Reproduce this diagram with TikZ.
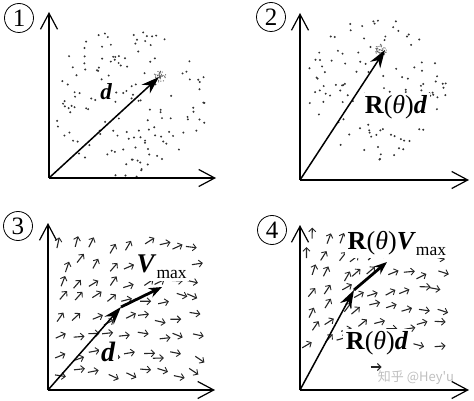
\documentclass[tikz,border=0pt]{standalone}
\usepackage{fontspec}
\setmainfont{Liberation Serif}
\newfontfamily\cjkfont{Noto Sans CJK SC}
\usetikzlibrary{arrows.meta}
\begin{document}
\begin{tikzpicture}[x=1pt,y=-1pt,
  axis/.style={line width=1.4pt,-{Straight Barb[length=16pt,width=17pt,line width=1.2pt]}},
  vec/.style={line width=1.5pt,-{Stealth[length=18pt,width=12pt]}},
  vmax/.style={line width=2.8pt,-{Stealth[length=13pt,width=10pt]}},
  fa/.style={line width=1.1pt,black!85,-{Straight Barb[length=3.5pt,width=7pt,line width=0.9pt]}},
  num/.style={draw,circle,line width=0.8pt,minimum size=29pt,inner sep=0pt,font=\fontsize{25}{25}\selectfont},
  lab/.style={fill=white,inner sep=2.5pt,text=black},
  dot/.style={fill=black!80}]
\useasboundingbox (0,0) rectangle (474,401);
\pgfmathsetseed{11}
% ---------- Panel 1 ----------
\coordinate (O1) at (49,178);
\coordinate (Y1) at (49,12);
\coordinate (X1) at (216,178);
\coordinate (D1) at (159,77);
\foreach \i in {1,...,150}{
  \pgfmathsetmacro\rr{78*sqrt(rnd)}
  \pgfmathsetmacro\aa{360*rnd}
  \fill[dot] ({130+\rr*cos(\aa)},{100+\rr*sin(\aa)}) circle (1.1pt);
}
\foreach \i in {1,...,40}{
  \pgfmathsetmacro\rr{6*sqrt(rnd)}
  \pgfmathsetmacro\aa{360*rnd}
  \fill[black!70] ({160+\rr*cos(\aa)},{76+\rr*sin(\aa)}) circle (0.6pt);
}
\node[num] (n1) at (19,18) {1};
\node[lab,font=\fontsize{23}{23}\selectfont\bfseries\itshape] (l1) at (106,92) {d};
\draw[axis] (O1) -- (Y1);
\draw[axis] (O1) -- (X1);
\draw[vec] (O1) -- (D1);
% ---------- Panel 2 ----------
\coordinate (O2) at (300,180);
\coordinate (Y2) at (300,13);
\coordinate (X2) at (469,180);
\coordinate (D2) at (385,50);
\foreach \i in {1,...,120}{
  \pgfmathsetmacro\rr{72*sqrt(rnd)}
  \pgfmathsetmacro\aa{360*rnd}
  \fill[dot] ({377+\rr*cos(\aa)},{88+\rr*sin(\aa)}) circle (1.1pt);
}
\foreach \i in {1,...,40}{
  \pgfmathsetmacro\rr{6*sqrt(rnd)}
  \pgfmathsetmacro\aa{360*rnd}
  \fill[black!70] ({381+\rr*cos(\aa)},{50+\rr*sin(\aa)}) circle (0.6pt);
}
\node[num] (n2) at (271,17) {2};
\node[lab,font=\fontsize{26}{26}\selectfont] (l2) at (396,107) {\textbf{R}(\textit{θ})\textbf{\textit{d}}};
\draw[axis] (O2) -- (Y2);
\draw[axis] (O2) -- (X2);
\draw[vec] (O2) -- (D2);
% ---------- Panel 3 ----------
\coordinate (O3) at (48,390);
\coordinate (Y3) at (48,223);
\coordinate (X3) at (215,390);
\coordinate (D3) at (121,307);
\coordinate (V3) at (162,287);
\foreach \c in {0,...,8}{
  \foreach \r in {0,...,7}{
    \pgfmathsetmacro\px{63+\c*16.5+5*rand}
    \pgfmathsetmacro\py{244+\r*18.5+5*rand}
    \pgfmathsetmacro\tx{(\px-60)/140}
    \pgfmathsetmacro\ty{(\py-240)/140}
    \pgfmathsetmacro\ang{95*(1-\tx)*(1-0.75*\ty)-25*\ty+18*rand}
    \draw[fa] ({\px-5.5*cos(\ang)},{\py+5.5*sin(\ang)}) -- ++({11*cos(\ang)},{-11*sin(\ang)});
  }
}
\node[num] (n3) at (18,226) {3};
\node[lab,font=\fontsize{28}{28}\selectfont\itshape] (l3d) at (108,352) {\textbf{d}};
\node[lab,font=\fontsize{27}{27}\selectfont,anchor=base west] (l3v) at (134,272) {\textbf{\textit{V}}\raisebox{-6pt}{\fontsize{17.5}{17.5}\selectfont max}};
\draw[axis] (O3) -- (Y3);
\draw[axis] (O3) -- (X3);
\draw[vec] (O3) -- (D3);
\draw[vmax] (D3) -- (V3);
% ---------- Panel 4 ----------
\coordinate (O4) at (300,390);
\coordinate (Y4) at (300,225);
\coordinate (X4) at (469,390);
\coordinate (D4) at (354,290);
\coordinate (V4) at (387,262);
\foreach \c in {0,...,8}{
  \foreach \r in {0,...,6}{
    \pgfmathsetmacro\px{311+\c*16+5*rand}
    \pgfmathsetmacro\py{238+\r*17.5+5*rand}
    \pgfmathsetmacro\tx{(\px-305)/140}
    \pgfmathsetmacro\ty{(\py-230)/140}
    \pgfmathsetmacro\ang{100*(1-\tx)*(1-0.6*\ty)-15*\ty+18*rand}
    \draw[fa] ({\px-5.5*cos(\ang)},{\py+5.5*sin(\ang)}) -- ++({11*cos(\ang)},{-11*sin(\ang)});
  }
}
\coordinate (e1) at (376,367);
\draw[fa] ([xshift=-5.5pt]e1) -- ++(11,0);
\node[num] (n4) at (272,230) {4};
\node[lab,font=\fontsize{26}{26}\selectfont,anchor=base west] (l4v) at (345,249) {\textbf{R}(\textit{θ})\textbf{\textit{V}}\raisebox{-6pt}{\fontsize{17.5}{17.5}\selectfont max}};
\node[lab,font=\fontsize{26}{26}\selectfont] (l4d) at (377,343) {\textbf{R}(\textit{θ})\textbf{\textit{d}}};
\node[text=black!25,font=\fontsize{13}{13}\selectfont\cjkfont] (wm) at (416,378) {知乎 @Hey'u};
\draw[axis] (O4) -- (Y4);
\draw[axis] (O4) -- (X4);
\draw[vec] (O4) -- (D4);
\draw[vmax] (D4) -- (V4);
\end{tikzpicture}
\end{document}
